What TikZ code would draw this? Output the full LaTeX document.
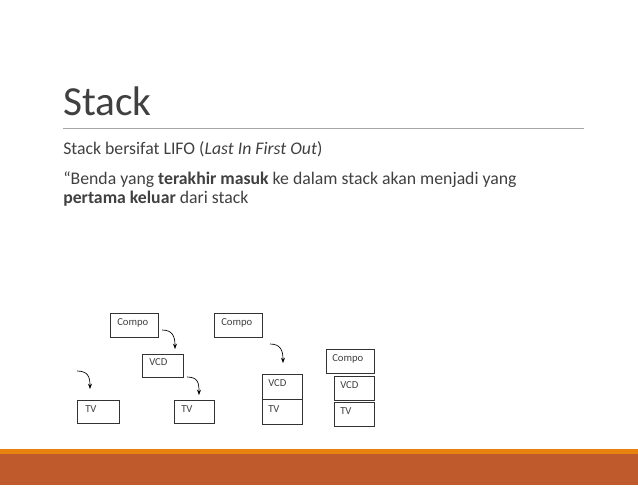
\documentclass[tikz,border=0pt]{standalone}
\usetikzlibrary{arrows.meta,calc}
\usepackage{fontspec}
\setmainfont{Carlito}
\definecolor{band}{HTML}{BE5A2C}
\definecolor{stripe}{HTML}{E8820F}
\definecolor{txt}{HTML}{404040}
\begin{document}
\begin{tikzpicture}[x=0.75pt,y=-0.75pt,
  item/.style={draw=black!80,line width=0.6pt},
  lbl/.style={anchor=north west,font=\fontsize{8}{9}\selectfont,text=txt,inner sep=0pt},
  body/.style={anchor=west,inner sep=0pt,text=txt,font=\fontsize{13.3}{15}\selectfont},
  arr/.style={-{Stealth[length=4pt,width=3pt]},line width=0.5pt}]
\useasboundingbox (0,0) rectangle (638,493);
\fill[band] (0,454) rectangle (638,485);
\fill[stripe] (0,449) rectangle (638,454);
\node[anchor=west,inner sep=0pt,text=txt,font=\fontsize{31}{34}\selectfont] (title) at (63,101) {Stack};
\draw[black!35,line width=0.5pt] (63,128) -- (584,128);
\node[body] (l1) at (63,149) {Stack bersifat LIFO (\textit{Last In First Out})};
\node[body] (l2) at (63,180) {“Benda yang \textbf{terakhir masuk} ke dalam stack akan menjadi yang};
\node[body] (l3) at (63,199) {\textbf{pertama keluar} dari stack};
% boxes
\draw[item] (110,313) rectangle (158,337); \node[lbl] (c1) at (117,318) {Compo};
\draw[item] (214,313) rectangle (262,337); \node[lbl] (c2) at (221,318) {Compo};
\draw[item] (142,354) rectangle (183,377); \node[lbl] (v1) at (149,358) {VCD};
\draw[item] (77,400) rectangle (119,423); \node[lbl] (t1) at (85,405) {TV};
\draw[item] (174,400) rectangle (214,423); \node[lbl] (t2) at (181,405) {TV};
\draw[item] (262,374) rectangle (302,399); \node[lbl] (v3) at (268,379) {VCD};
\draw[item] (262,399) rectangle (302,424); \node[lbl] (t3) at (268,405) {TV};
\draw[item] (326,349) rectangle (374,373); \node[lbl] (c4) at (332,354) {Compo};
\draw[item] (334,376) rectangle (374,400); \node[lbl] (v4) at (340,381) {VCD};
\draw[item] (334,402) rectangle (374,426); \node[lbl] (t4) at (340,407) {TV};
% arrows
\coordinate (a1s) at (77,371); \coordinate (a1e) at (90,389);
\coordinate (a2s) at (162,330); \coordinate (a2e) at (175,349);
\coordinate (a3s) at (187,377); \coordinate (a3e) at (199,395);
\coordinate (a4s) at (270,344); \coordinate (a4e) at (283,363);
\foreach \s/\e in {a1s/a1e,a2s/a2e,a3s/a3e,a4s/a4e}
  \draw[arr] (\s) .. controls ($(\s)+(11,0)$) and ($(\e)+(0,-12)$) .. (\e);
\end{tikzpicture}
\end{document}
